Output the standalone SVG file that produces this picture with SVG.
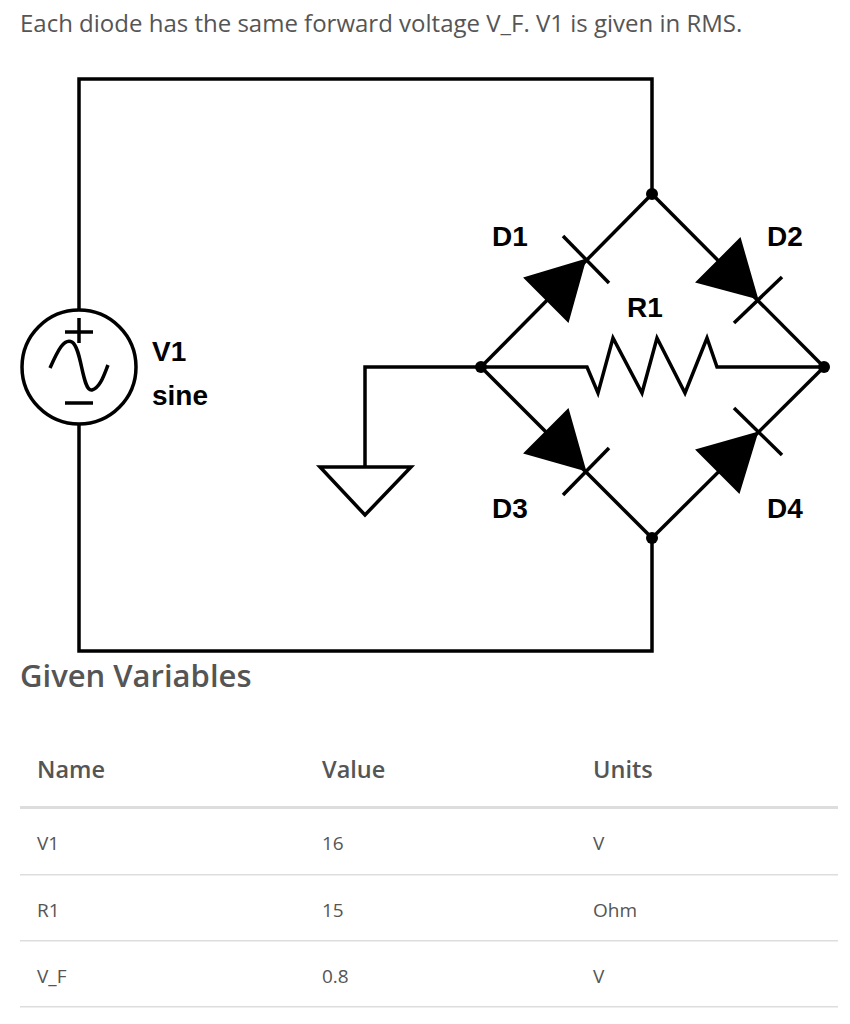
<svg xmlns="http://www.w3.org/2000/svg" width="850" height="1024" viewBox="0 0 850 1024">
<style>
.w{fill:none;stroke:#000;stroke-width:3.5;stroke-linejoin:miter}
.lb{font-family:"Liberation Sans",Arial,sans-serif;font-weight:bold;font-size:28px;fill:#000}
.t{font-family:"Open Sans","Noto Sans",sans-serif;fill:#555}
.hd{font-size:23.5px;font-weight:600}
.cell{font-size:19px}
.dot{fill:#000}
.tri{fill:#000;stroke:#000;stroke-width:2;stroke-linejoin:miter}
</style>
<rect width="850" height="1024" fill="#fff"/>
<text class="t" x="20" y="32" font-size="24" fill="#444">Each diode has the same forward voltage V_F.  V1 is given in RMS.</text>
<g id="connectors">
<polyline class="w" points="79,310 79,79 652,79 652,194"/>
<polyline class="w" points="79,424 79,651 652,651 652,538"/>
<line class="w" x1="481" y1="367" x2="652" y2="194"/>
<line class="w" x1="652" y1="194" x2="824" y2="367"/>
<line class="w" x1="481" y1="367" x2="652" y2="538"/>
<line class="w" x1="652" y1="538" x2="824" y2="367"/>
<polyline class="w" points="481,367 365,367 365,467"/>
</g>
<g id="V1">
<circle cx="79" cy="367" r="57" fill="#fff" stroke="#000" stroke-width="3.5"/>
<path class="w" d="M65,332 H93 M79,318 V343 M65,403 H93"/>
<path class="w" d="M50,368 C58,350 64,338 72,342 C82,348 82,392 92,390 C100,388 104,375 108,365"/>
<text class="lb" x="152" y="361">V1</text>
<text class="lb" x="152" y="405">sine</text>
</g>
<g id="GND">
<polygon points="320,467 411,467 365,515" fill="#fff" stroke="#000" stroke-width="3.5" stroke-linejoin="miter"/>
</g>
<g id="D1">
<polygon class="tri" points="525,278 568,321 585,260"/>
<line class="w" x1="563" y1="236" x2="609" y2="283"/>
<text class="lb" x="492" y="246">D1</text>
</g>
<g id="D2">
<polygon class="tri" points="697,282 740,239 757,298"/>
<line class="w" x1="734" y1="323" x2="782" y2="277"/>
<text class="lb" x="767" y="246">D2</text>
</g>
<g id="D3">
<polygon class="tri" points="525,453 568,410 585,470"/>
<line class="w" x1="563" y1="495" x2="609" y2="448"/>
<text class="lb" x="492" y="518">D3</text>
</g>
<g id="D4">
<polygon class="tri" points="697,450 739,492 757,433"/>
<line class="w" x1="734" y1="408" x2="782" y2="455"/>
<text class="lb" x="767" y="518">D4</text>
</g>
<g id="R1">
<polyline class="w" points="481,367 587,367 598,393 613,338 642,393 657,338 685,393 707,338 717,367 824,367"/>
<text class="lb" x="627" y="317">R1</text>
</g>
<g id="nodes">
<circle class="dot" cx="652" cy="194" r="6"/>
<circle class="dot" cx="481" cy="367" r="6"/>
<circle class="dot" cx="824" cy="367" r="6"/>
<circle class="dot" cx="652" cy="538" r="6"/>
</g>
<g id="table">
<text class="t" x="20" y="687" font-size="31" font-weight="600">Given Variables</text>
<text class="t hd" x="37" y="778">Name</text>
<text class="t hd" x="322" y="778">Value</text>
<text class="t hd" x="593" y="778">Units</text>
<rect x="20" y="806" width="818" height="3" fill="#ddd"/>
<rect x="20" y="874" width="818" height="1.5" fill="#ddd"/>
<rect x="20" y="940" width="818" height="1.5" fill="#ddd"/>
<rect x="20" y="1006" width="818" height="1.5" fill="#ddd"/>
<text class="t cell" x="37" y="850">V1</text>
<text class="t cell" x="322" y="850">16</text>
<text class="t cell" x="593" y="850">V</text>
<text class="t cell" x="37" y="917">R1</text>
<text class="t cell" x="322" y="917">15</text>
<text class="t cell" x="593" y="917">Ohm</text>
<text class="t cell" x="37" y="983">V_F</text>
<text class="t cell" x="322" y="983">0.8</text>
<text class="t cell" x="593" y="983">V</text>
</g>
</svg>
